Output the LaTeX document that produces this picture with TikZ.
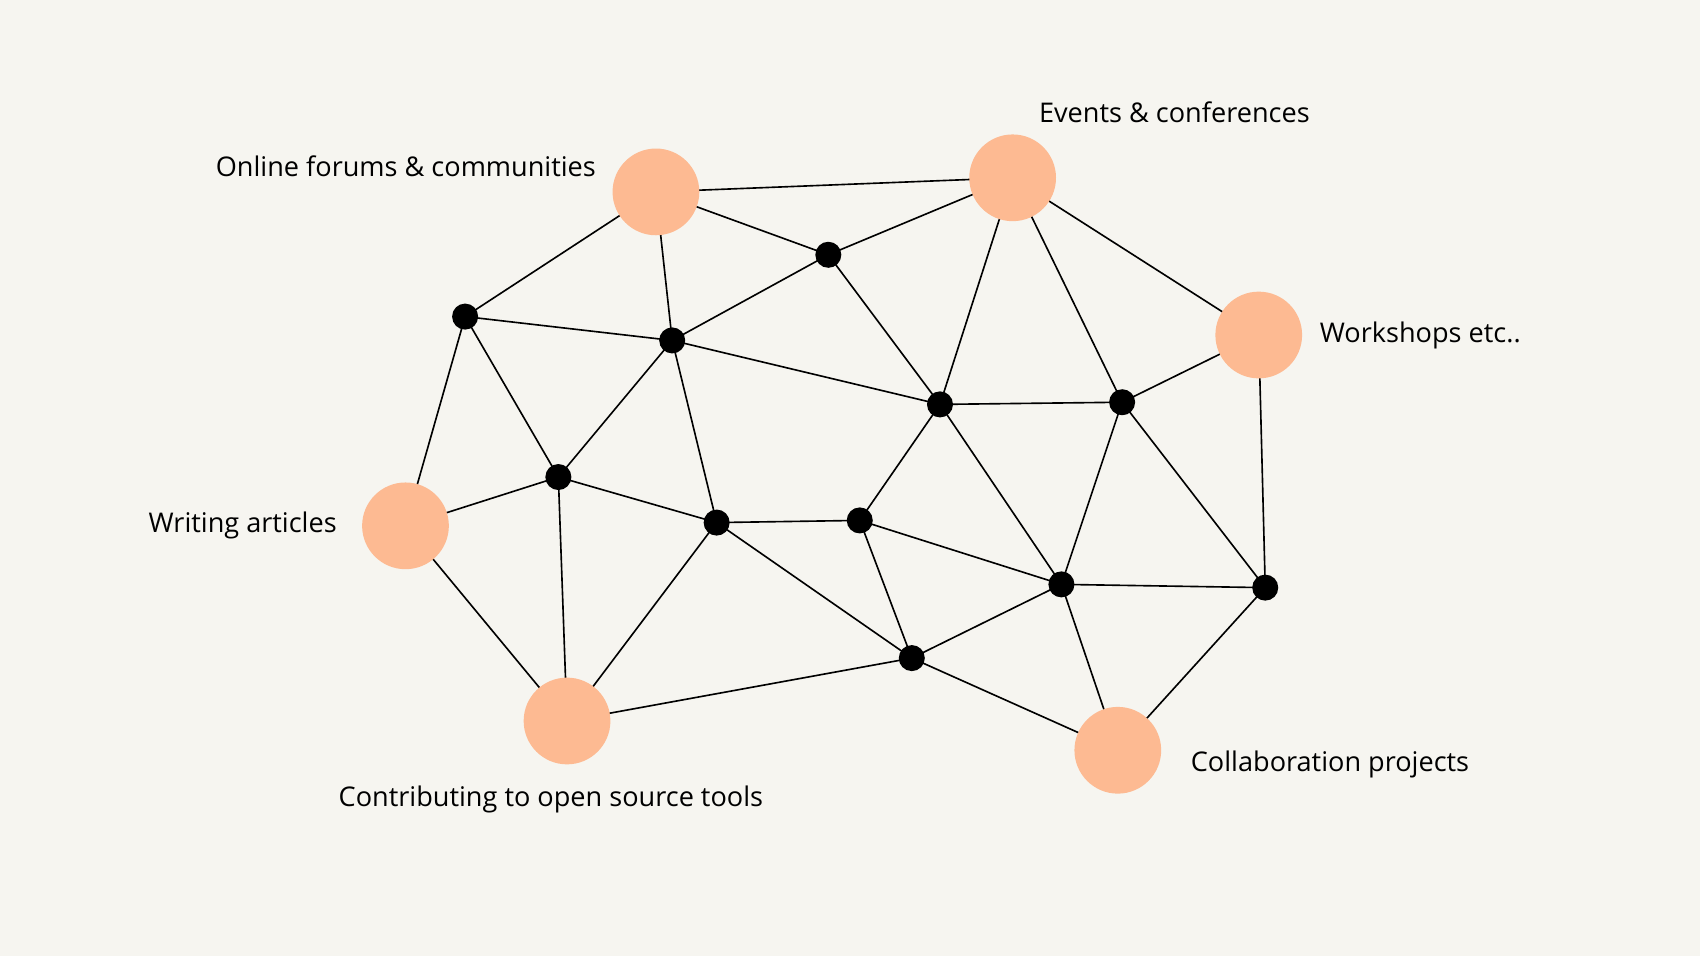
\documentclass[tikz,border=0pt]{standalone}
\usepackage{fontspec}
\setmainfont{Open Sans}
\definecolor{bg}{HTML}{F6F5F0}
\definecolor{peach}{HTML}{FDBA92}
\begin{document}
\begin{tikzpicture}[x=0.5pt,y=-0.5pt,
  big/.style={circle,fill=peach,minimum size=40pt,inner sep=0},
  dot/.style={circle,fill=black,minimum size=12pt,inner sep=0},
  lbl/.style={font=\fontsize{12.5}{15}\selectfont,inner sep=0},
  edge/.style={line width=0.75pt}]
\fill[bg] (0,0) rectangle (1568,882);
\useasboundingbox (0,0) rectangle (1568,882);
\foreach \n/\x/\y in {OF/605/177,EV/934/164,WS/1161/309,WA/374/485,CO/523/665,CP/1031/692}
  \coordinate (\n) at (\x,\y);
\foreach \n/\x/\y in {a/429/292,b/620/314,c/764/235,d/867/373,e/1035/371,f/515/440,g/661/482,h/793/480,i/979/539,j/1167/542,k/841/607}
  \coordinate (\n) at (\x,\y);
\foreach \u/\v in {OF/EV,OF/c,OF/b,OF/a,c/EV,c/b,c/d,EV/d,EV/e,EV/WS,WS/e,WS/j,a/b,a/f,a/WA,b/f,b/d,b/g,d/e,d/h,d/i,e/i,e/j,WA/f,WA/CO,f/g,f/CO,g/h,g/CO,g/k,h/i,h/k,i/j,i/k,i/CP,j/CP,k/CO,k/CP}
  \draw[edge] (\u) -- (\v);
\foreach \n in {OF,EV,WS,WA,CO,CP} \node[big] (\n n) at (\n) {};
\foreach \n in {a,b,c,d,e,f,g,h,i,j,k} \node[dot] (\n n) at (\n) {};
\node[lbl,anchor=east] (l1) at (550,153) {Online forums \& communities};
\node[lbl,anchor=west] (l2) at (958,104) {Events \& conferences};
\node[lbl,anchor=west] (l3) at (1217,309) {Workshops etc..};
\node[lbl,anchor=east] (l4) at (311,485) {Writing articles};
\node[lbl,anchor=west] (l5) at (312,737) {Contributing to open source tools};
\node[lbl,anchor=west] (l6) at (1098,705) {Collaboration projects};
\end{tikzpicture}
\end{document}
